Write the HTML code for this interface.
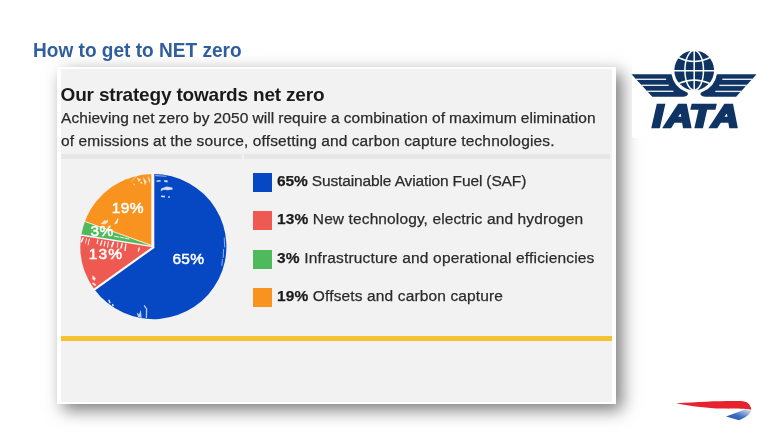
<!DOCTYPE html>
<html lang="en">
<head>
<meta charset="utf-8">
<title>How to get to NET zero</title>
<style>
html,body{margin:0;padding:0;background:#fff;}
body{width:768px;height:432px;position:relative;overflow:hidden;font-family:"Liberation Sans",sans-serif;}
.abs{position:absolute;}
#title{left:33.2px;top:38.6px;font-size:20.5px;line-height:22px;transform:scaleX(.93);transform-origin:0 0;font-weight:bold;color:#2f5f9e;white-space:nowrap;}
#card{left:57px;top:67px;width:559px;height:337px;background:#fff;box-shadow:6px 6px 16px rgba(0,0,0,.52);}
#cardin{left:61px;top:69px;width:550.5px;height:333px;background:#f2f2f2;}
#h2{left:60.6px;top:84.2px;font-size:19px;letter-spacing:-.19px;line-height:22px;font-weight:bold;color:#1a1a1a;white-space:nowrap;}
.p{left:61px;font-size:15.5px;line-height:18px;color:#2b2b2b;white-space:nowrap;-webkit-text-stroke:.25px #2b2b2b;}
#band{left:61px;top:153.8px;width:549px;height:4.9px;background:#e7e7e7;}
#bandgap{left:242px;top:153.8px;width:1.5px;height:4.9px;background:#f2f2f2;}
.sq{left:253px;width:19px;height:19px;}
.lg{left:277px;font-size:15.5px;line-height:18px;color:#2b2b2b;white-space:nowrap;-webkit-text-stroke:.25px #2b2b2b;}
.lg b{color:#1a1a1a;}
#yline{left:61px;top:336.1px;width:550.6px;height:5px;background:#f5c330;}
</style>
</head>
<body><div id="stage" class="abs" style="left:0;top:0;width:768px;height:432px;filter:blur(.45px)">
<div id="title" class="abs">How to get to NET zero</div>
<div id="card" class="abs"></div>
<div id="cardin" class="abs"></div>
<div id="h2" class="abs">Our strategy towards net zero</div>
<div class="abs p" style="top:109.2px;letter-spacing:.068px;word-spacing:-.35px">Achieving net zero by 2050 will require a combination of maximum elimination</div>
<div class="abs p" style="top:132.1px;letter-spacing:.17px;word-spacing:-.35px">of emissions at the source, offsetting and carbon capture technologies.</div>
<div id="band" class="abs"></div><div id="bandgap" class="abs"></div>

<div class="abs sq" style="top:172.7px;background:#0648c4"></div>
<div class="abs sq" style="top:211px;background:#ee5a52"></div>
<div class="abs sq" style="top:250px;background:#4fba5c"></div>
<div class="abs sq" style="top:288px;background:#f7931e"></div>
<div class="abs lg" style="top:171.6px;letter-spacing:-.135px"><b>65%</b> Sustainable Aviation Fuel (SAF)</div>
<div class="abs lg" style="top:210.1px;letter-spacing:.118px"><b>13%</b> New technology, electric and hydrogen</div>
<div class="abs lg" style="top:248.5px;letter-spacing:.164px"><b>3%</b> Infrastructure and operational efficiencies</div>
<div class="abs lg" style="top:287.1px;letter-spacing:.133px"><b>19%</b> Offsets and carbon capture</div>
<div id="yline" class="abs"></div>
<svg class="abs" style="left:0;top:0" width="768" height="432" viewBox="0 0 768 432">
<!-- pie -->
<g transform="translate(0,1.75) scale(1,.9945)">
<path d="M154.1,246.4 L153.2,173.2 A73,73 0 1 1 94.5,289.3 Z" fill="#0648c4"/>
<path d="M154.1,246.4 L94.5,289.3 A73,73 0 0 1 81.3,234.7 Z" fill="#ee5a52"/>
<path d="M154.1,246.4 L81.3,234.7 A73,73 0 0 1 84.9,221.0 Z" fill="#4fba5c"/>
<path d="M154.1,246.4 L84.9,221.0 A73,73 0 0 1 153.2,173.2 Z" fill="#f7931e"/>
<g stroke="#f7f7f7" stroke-linecap="butt" fill="none">
<path d="M152.8,172.6 L152.8,246.4" stroke-width="3"/>
<path d="M154.1,246.4 L93.9,289.8" stroke-width="2.2"/>
<path d="M153.1,246.20000000000002 L80.8,234.6" stroke-width="1.4"/>
<path d="M153.1,245.4 L84.4,220.8" stroke-width="0.8"/>
</g>
</g>
<g stroke="#fff" fill="none" stroke-linecap="round" opacity=".9">
<path d="M83.0,238.1 l-1.5,3.5" stroke-width="1.6"/>
<path d="M86.6,238.3 l-1.1,4.8" stroke-width="0.9"/>
<path d="M89.4,239.0 l-1.3,5.9" stroke-width="1.0"/>
<path d="M97.8,239.9 l-0.6,3.4" stroke-width="1.2"/>
<path d="M101.9,240.9 l-1.5,4.3" stroke-width="1.4"/>
<path d="M105.1,241.4 l-0.9,4.5" stroke-width="1.2"/>
<path d="M108.4,241.9 l-0.9,5.4" stroke-width="1.1"/>
<path d="M113.3,242.5 l-1.5,4.0" stroke-width="1.9"/>
<path d="M117.9,242.6 l-0.8,4.7" stroke-width="0.9"/>
<path d="M122.0,243.8 l-0.9,4.1" stroke-width="1.6"/>
<path d="M125.8,244.3 l-0.8,6.3" stroke-width="1.4"/>
<path d="M139.2,248 l-.8,3" stroke-width="1.4"/>
<path d="M114.5,236.2 l4.2,.9 M120.2,237.1 l3.6,.8 M125,238.1 l4,.9" stroke-width="1"/>
<path d="M136.6,312.5 l2.4,1.8 l1.8,-4.6 l.9,8 l-3.6,-.6 Z" fill="#fff" stroke="none" opacity=".8"/>

<path d="M144.4,305.8 l2.2,3.2 l-.2,8.4" stroke-width="1.3" opacity=".8"/>

<path d="M109,300.2 l.9,2.6 M112.6,304.6 l.5,1" stroke-width="1.4"/>
<path d="M93,276 l2.4,2.2 l-.8,2.2 l-1.8,-1.2 Z" fill="#fff" stroke-width=".6"/>
<path d="M93,283.4 l2.2,1.6" stroke-width="1.6"/>
<path d="M224.2,238 l.5,9 M223.6,249.5 l-.4,8 M222.4,259.5 l-.5,6" stroke-width=".9" opacity=".7"/>
<path d="M100.8,223.8 l3.6,-3.6 l1.6,.6 l1.8,-1.4 l.2,2.8 l-3.4,2.4 Z" fill="#f3ece2" stroke="none"/>
<path d="M114,224.4 l3.6,-6 l1,.4 l-1.4,4.4 Z" fill="#fff" stroke="none"/>
<path d="M136.6,177.6 l4.4,1.6 l-2.2,2.8 Z M143,177 l3.6,4.6 l-1.6,3.8 l-1.2,-4.4 Z M147.6,175.4 l2.6,4.4 l-.4,3.6 l-1.4,-3.6 Z M133,183.6 l2,.9 l-.8,1.2 Z M139.6,183 l2.4,-1.6 l.4,2.6 Z" fill="#fff" stroke="none" opacity=".85"/>
<path d="M128,179 l4.6,-3 M131.6,181 l5,-4.6" stroke-width=".7" opacity=".7"/>
<path d="M156.4,180.6 l4,-.6 l.4,1.6 l-4,.4 Z M164.2,180 l3.6,.6 l-.4,2 l-3,-.6 Z M161.2,188.6 l5.4,-2 l5.6,.8 l.6,2.2 l-5,.6 l-4.2,-.4 l-3,1.4 Z M161,195.6 l4.2,.2 l-.4,1.6 l-3.8,-.4 Z M168.2,196 l1.6,.2 l-.2,1.8 l-1.4,-.2 Z" fill="#fff" stroke="none" opacity=".9"/>
<path d="M155.6,175.6 l10.4,.7" stroke="#9db6ea" stroke-width="1.1"/>
</g>
<g font-family="'Liberation Sans',sans-serif" font-size="15.5" fill="#fff" stroke="#fff" stroke-width=".5" text-anchor="middle" letter-spacing=".3">
<text x="188.4" y="263.8">65%</text>
<text x="127.8" y="213.4">19%</text>
<text x="106" y="259.4" letter-spacing="1.2">13%</text>
<text x="102" y="236">3%</text>
</g>

<!-- IATA logo -->
<rect x="632" y="40" width="136" height="98" fill="#fff"/>
<g fill="#0f3464">
<circle cx="694.2" cy="70.3" r="19.9"/>
<path d="M631.5,74.3 L671.5,74.3 A23,23 0 0 0 686.2,91.9 Q688.6,93 687.6,95 Q686.6,96.7 683,96.7 L652.3,96.7 Z"/>
<path d="M756.6,74.3 L716.9,74.3 A23,23 0 0 1 702.2,91.9 Q699.8,93 700.8,95 Q701.8,96.7 705.4,96.7 L736.1,96.7 Z"/>
</g>
<g stroke="#fff" stroke-width="1.5" fill="none">
<line x1="694.2" y1="50" x2="694.2" y2="91"/>
<line x1="674" y1="70.8" x2="715" y2="70.8"/>
<ellipse cx="694.2" cy="70.3" rx="9.3" ry="19.9"/>
<path d="M678.4,57.6 Q694.2,65.2 710,57.6"/>
<path d="M678.4,83.6 Q694.2,76.2 710,83.6"/>
</g>
<g stroke="#e4eaf2" stroke-width="1.4">
<line x1="636" y1="79.3" x2="666.1" y2="79.3"/>
<line x1="641.5" y1="85.3" x2="668.7" y2="85.3"/>
<line x1="647" y1="91.3" x2="673.4" y2="91.3"/>
<line x1="752.4" y1="79.3" x2="722.3" y2="79.3"/>
<line x1="746.9" y1="85.4" x2="719.3" y2="85.4"/>
<line x1="741.4" y1="91.4" x2="715.3" y2="91.4"/>
</g>
<g transform="scale(1.22,1)"><text x="534.75 545.49 565.08 583.44" y="126.6" font-family="'Liberation Sans',sans-serif" font-weight="bold" font-style="italic" font-size="30.6" fill="#0f3464" stroke="#0f3464" stroke-width="2.6" stroke-linejoin="miter">IATA</text></g>

<!-- BA ribbon -->
<defs>
<linearGradient id="bag" x1="0" y1="1" x2="1" y2="0">
<stop offset="0" stop-color="#1d4fa3"/><stop offset=".45" stop-color="#3f6fc0"/><stop offset="1" stop-color="#e8eef8"/>
</linearGradient>
</defs>
<path d="M676.9,403.3 C700,401.5 725,400.6 741,401 C747,401.3 750.5,404 751.3,409.5 C744,408.6 738,408.6 716,408.4 C702,407.8 688,405.5 676.9,403.6 Z" fill="#e8212e"/>
<path d="M726,416.5 L745.5,409.2 L751.4,410.6 C750,414.5 745,418 739,420.3 Z" fill="url(#bag)"/>
</svg>

</div></body>
</html>
